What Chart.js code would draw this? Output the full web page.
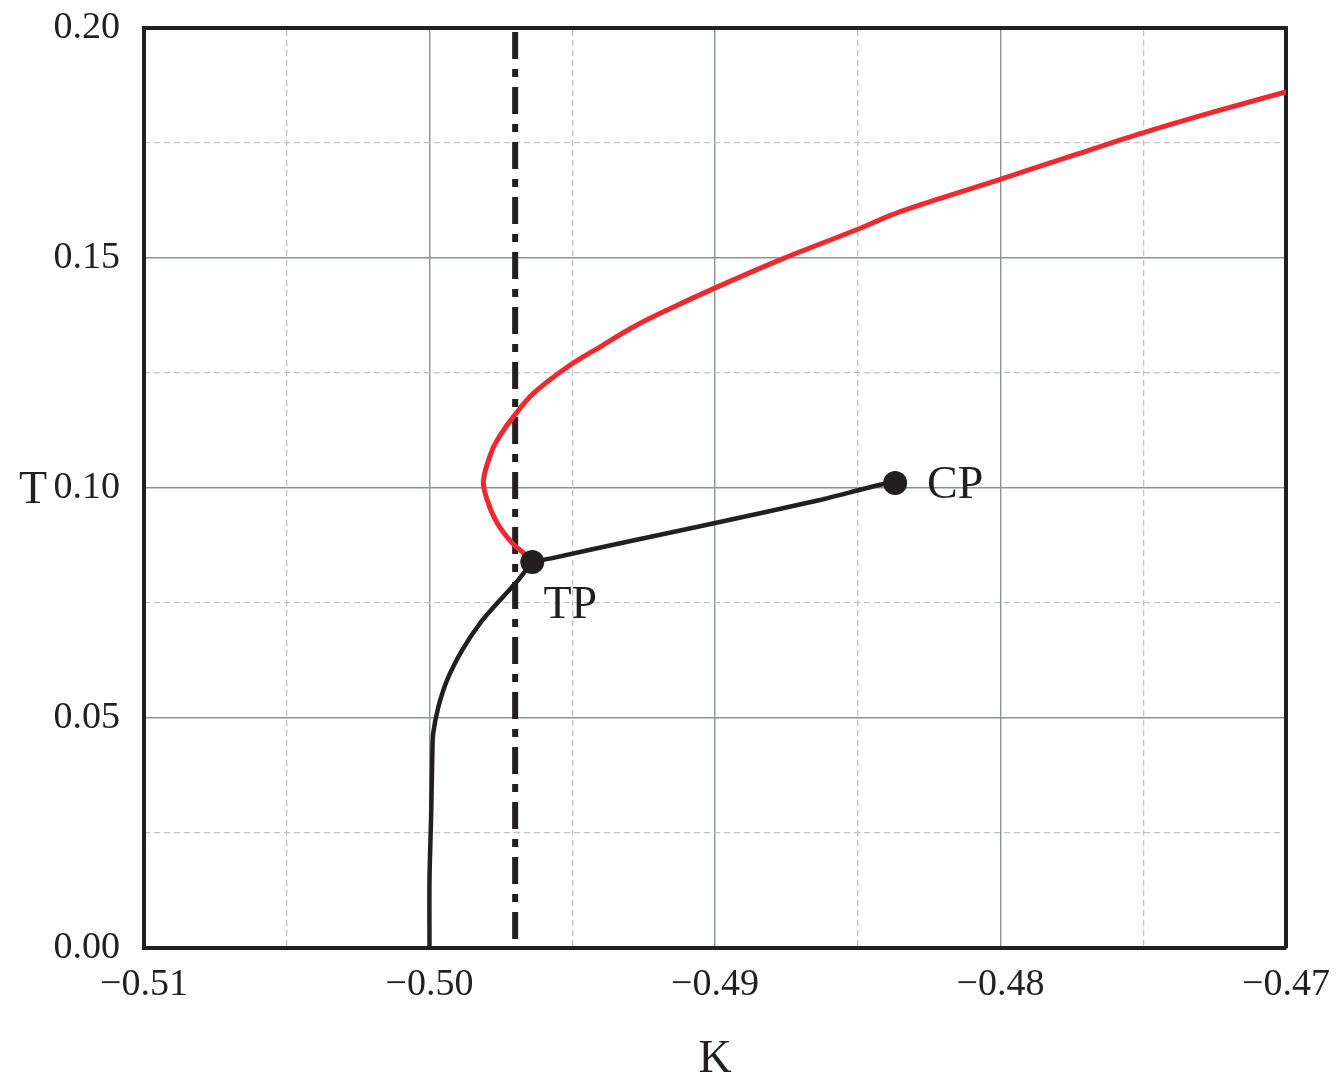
<!DOCTYPE html>
<html>
<head>
<meta charset="utf-8">
<script src="https://cdn.jsdelivr.net/npm/chart.js@4.4.1/dist/chart.umd.min.js"></script>
<style>
  html, body { margin: 0; padding: 0; background: #fff; }
  #wrap { width: 1341px; height: 1086px; }
</style>
</head>
<body>
<div id="wrap"><canvas id="phaseChart"></canvas></div>
<script>
// axis ticks
const kTicks = [-0.51, -0.50, -0.49, -0.48, -0.47];
const tTicks = [0.00, 0.05, 0.10, 0.15, 0.20];

// black line below the triple point
const lowerK = [-0.5000, -0.5000, -0.49994, -0.49990, -0.49987, -0.49969, -0.49938, -0.49885, -0.49822, -0.49752, -0.49689, -0.49640];
const lowerT = [0.0000, 0.0148, 0.0294, 0.0424, 0.0467, 0.0524, 0.0583, 0.0648, 0.0707, 0.0757, 0.0800, 0.0839];

// black line from TP to CP
const upperK = [-0.49640, -0.49566, -0.49332, -0.49052, -0.48632, -0.48422, -0.48369];
const upperT = [0.0839, 0.0848, 0.0880, 0.0917, 0.0974, 0.1007, 0.1011];

// red line
const redK = [-0.49640, -0.49671, -0.49710, -0.49763, -0.49798, -0.49811, -0.49780, -0.49752, -0.49707, -0.49637,
              -0.49517, -0.49402, -0.49286, -0.49167, -0.49003, -0.48772, -0.48502, -0.48351, -0.48001, -0.47721,
              -0.47501, -0.47256, -0.47000];
const redT = [0.0839, 0.0859, 0.0880, 0.0924, 0.0974, 0.1017, 0.1083, 0.1115, 0.1154, 0.1205,
              0.1263, 0.1307, 0.1350, 0.1387, 0.1434, 0.1496, 0.1562, 0.1601, 0.1671, 0.1728,
              0.1772, 0.1817, 0.1861];

// dash-dot vertical line
const vlineK = -0.4970;

// special points
const pointNames = ['TP', 'CP'];
const pointK = [-0.49640, -0.48369];
const pointT = [0.0839, 0.1011];

const INK = '#231f20';
const RED = '#ed2a30';
const SERIF = "'Liberation Serif', 'Times New Roman', serif";

function toXY(xs, ys) {
    return xs.map((x, i) => ({ x: x, y: ys[i] }));
}

function isMajor(v, step) {
    const r = v / step;
    return Math.abs(r - Math.round(r)) < 1e-6;
}

function fmt(v) {
    const s = Math.abs(v).toFixed(2);
    return v < -1e-9 ? '\u2212' + s : s;
}

// no extra room for labels sticking past the plot edges
function noPadding(scale) {
    scale.paddingTop = 0;
    scale.paddingBottom = 0;
    scale.paddingLeft = 0;
    scale.paddingRight = 0;
}

// draws the free text: axis letters and point labels
const labelPlugin = {
    id: 'labelPlugin',
    afterDraw(chart) {
        const { ctx, chartArea, scales } = chart;
        ctx.save();
        ctx.fillStyle = INK;
        ctx.textAlign = 'center';
        ctx.textBaseline = 'alphabetic';
        ctx.font = '46px ' + SERIF;
        ctx.fillText('T', chartArea.left - 111, (chartArea.top + chartArea.bottom) / 2 + 15);
        ctx.fillText('K', (chartArea.left + chartArea.right) / 2, chartArea.bottom + 124);

        const offsets = [[38, 56], [60, 15]];
        pointNames.forEach((name, i) => {
            const px = scales.x.getPixelForValue(pointK[i]);
            const py = scales.y.getPixelForValue(pointT[i]);
            ctx.fillText(name, px + offsets[i][0], py + offsets[i][1]);
        });
        ctx.restore();
    }
};

const tickFont = { family: SERIF, size: 38 };

new Chart(document.getElementById('phaseChart').getContext('2d'), {
    type: 'scatter',
    data: {
        datasets: [
            {
                label: 'points',
                data: toXY(pointK, pointT),
                pointRadius: 12,
                pointBackgroundColor: INK,
                pointBorderWidth: 0,
                showLine: false,
                order: 0
            },
            {
                label: 'red',
                data: toXY(redK, redT),
                borderColor: RED,
                borderWidth: 5,
                pointRadius: 0,
                showLine: true,
                tension: 0.35,
                order: 2
            },
            {
                label: 'lower',
                data: toXY(lowerK, lowerT),
                borderColor: INK,
                borderWidth: 4.5,
                pointRadius: 0,
                showLine: true,
                tension: 0.3,
                order: 1
            },
            {
                label: 'upper',
                data: toXY(upperK, upperT),
                borderColor: INK,
                borderWidth: 4.5,
                pointRadius: 0,
                showLine: true,
                tension: 0.2,
                order: 1
            },
            {
                label: 'vline',
                data: [{ x: vlineK, y: tTicks[tTicks.length - 1] }, { x: vlineK, y: tTicks[0] }],
                borderColor: INK,
                borderWidth: 6,
                borderDash: [27, 10, 8, 10],
                borderDashOffset: -4,
                borderCapStyle: 'butt',
                pointRadius: 0,
                showLine: true,
                order: 3
            }
        ]
    },
    options: {
        responsive: true,
        maintainAspectRatio: false,
        animation: false,
        layout: { padding: 0 },
        plugins: {
            legend: { display: false },
            tooltip: { enabled: false }
        },
        scales: {
            x: {
                type: 'linear',
                position: 'bottom',
                min: kTicks[0],
                max: kTicks[kTicks.length - 1],
                afterBuildTicks: (scale) => { scale.ticks = kTicks.map(v => ({ value: v })); },
                ticks: {
                    callback: (v) => fmt(v),
                    font: tickFont,
                    color: INK,
                    padding: 14,
                    maxRotation: 0,
                    autoSkip: false
                },
                grid: { color: '#8b9399', lineWidth: 1.4, drawTicks: false },
                border: { color: INK, width: 4 },
                afterFit: (scale) => { scale.height = 138; noPadding(scale); }
            },
            xMinor: {
                type: 'linear',
                position: 'top',
                min: kTicks[0],
                max: kTicks[kTicks.length - 1],
                ticks: { display: false, stepSize: 0.005 },
                grid: {
                    color: (c) => isMajor(c.tick.value, 0.01) ? 'rgba(0,0,0,0)' : '#c4c4c4',
                    lineWidth: 1.3,
                    drawTicks: false
                },
                border: { color: INK, width: 4, dash: [6, 4] },
                afterFit: (scale) => { scale.height = 28; noPadding(scale); }
            },
            y: {
                type: 'linear',
                position: 'left',
                min: tTicks[0],
                max: tTicks[tTicks.length - 1],
                afterBuildTicks: (scale) => { scale.ticks = tTicks.map(v => ({ value: v })); },
                ticks: {
                    callback: (v) => v.toFixed(2),
                    font: tickFont,
                    color: INK,
                    padding: 24,
                    autoSkip: false
                },
                grid: { color: '#8b9399', lineWidth: 1.4, drawTicks: false },
                border: { color: INK, width: 4 },
                afterFit: (scale) => { scale.width = 144; noPadding(scale); }
            },
            yMinor: {
                type: 'linear',
                position: 'right',
                min: tTicks[0],
                max: tTicks[tTicks.length - 1],
                ticks: { display: false, stepSize: 0.025 },
                grid: {
                    color: (c) => isMajor(c.tick.value, 0.05) ? 'rgba(0,0,0,0)' : '#c4c4c4',
                    lineWidth: 1.3,
                    drawTicks: false
                },
                border: { color: INK, width: 4, dash: [6, 4] },
                afterFit: (scale) => { scale.width = 55; noPadding(scale); }
            }
        }
    },
    plugins: [labelPlugin]
});
</script>
</body>
</html>
